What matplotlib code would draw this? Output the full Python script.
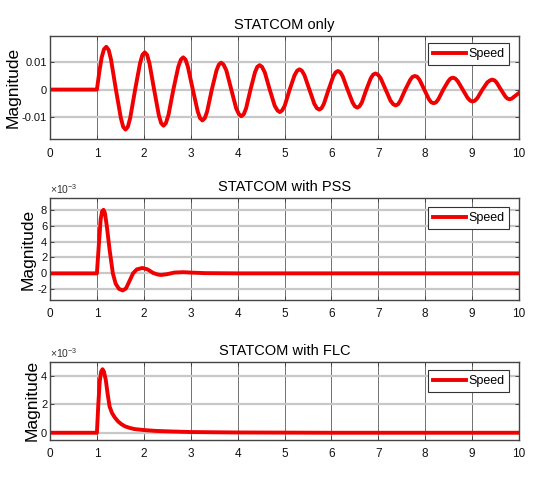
import matplotlib
matplotlib.use("Agg")
import matplotlib.pyplot as plt

plt.rcParams['font.family'] = ['Liberation Sans', 'DejaVu Sans']
plt.rcParams['axes.unicode_minus'] = False
plt.rcParams['mathtext.fontset'] = 'custom'
plt.rcParams['mathtext.rm'] = 'Liberation Sans'

# --- data ---
# STATCOM only (rotor speed deviation)
t_only = [0.0, 1.0, 1.05, 1.10, 1.15, 1.20,
          1.25, 1.30, 1.405, 1.51, 1.56, 1.61,
          1.66, 1.71, 1.815, 1.92, 1.97, 2.02,
          2.07, 2.12, 2.22, 2.32, 2.37, 2.42,
          2.47, 2.525, 2.63, 2.735, 2.79, 2.84,
          2.89, 2.94, 3.045, 3.15, 3.20, 3.25,
          3.30, 3.35, 3.45, 3.55, 3.60, 3.65,
          3.70, 3.76, 3.865, 3.97, 4.03, 4.08,
          4.13, 4.18, 4.275, 4.37, 4.42, 4.47,
          4.52, 4.58, 4.685, 4.79, 4.85, 4.90,
          4.95, 5.005, 5.11, 5.215, 5.27, 5.32,
          5.37, 5.425, 5.53, 5.635, 5.69, 5.74,
          5.79, 5.84, 5.94, 6.04, 6.09, 6.14,
          6.19, 6.24, 6.345, 6.45, 6.50, 6.55,
          6.60, 6.65, 6.745, 6.84, 6.89, 6.94,
          6.99, 7.05, 7.155, 7.26, 7.32, 7.37,
          7.42, 7.47, 7.575, 7.68, 7.73, 7.78,
          7.83, 7.88, 7.98, 8.08, 8.13, 8.18,
          8.23, 8.28, 8.385, 8.49, 8.54, 8.59,
          8.64, 8.695, 8.80, 8.905, 8.96, 9.01,
          9.06, 9.115, 9.22, 9.325, 9.38, 9.43,
          9.48, 9.52, 9.615, 9.71, 9.75, 9.80,
          9.85, 9.90, 10.0]
v_only = [0.0, 0.0, 0.0062, 0.0115, 0.0145, 0.0154,
          0.0143, 0.0109, 0.0, -0.0102, -0.0134, -0.0144,
          -0.0134, -0.0102, 0.0, 0.0095, 0.0125, 0.0134,
          0.0125, 0.0095, 0.0, -0.0092, -0.0121, -0.0130,
          -0.0121, -0.0092, 0.0, 0.0082, 0.0108, 0.0116,
          0.0108, 0.0082, 0.0, -0.0079, -0.0103, -0.0111,
          -0.0103, -0.0079, 0.0, 0.0069, 0.0090, 0.0097,
          0.0090, 0.0069, 0.0, -0.0068, -0.0089, -0.0096,
          -0.0089, -0.0068, 0.0, 0.0062, 0.0082, 0.0088,
          0.0082, 0.0062, 0.0, -0.0058, -0.0075, -0.0081,
          -0.0075, -0.0058, 0.0, 0.0052, 0.0068, 0.0073,
          0.0068, 0.0052, 0.0, -0.0051, -0.0067, -0.0072,
          -0.0067, -0.0051, 0.0, 0.0048, 0.0062, 0.0067,
          0.0062, 0.0048, 0.0, -0.0046, -0.0060, -0.0065,
          -0.0060, -0.0046, 0.0, 0.0041, 0.0054, 0.0058,
          0.0054, 0.0041, 0.0, -0.0040, -0.0053, -0.0057,
          -0.0053, -0.0040, 0.0, 0.0035, 0.0046, 0.0049,
          0.0046, 0.0035, 0.0, -0.0035, -0.0046, -0.0049,
          -0.0046, -0.0035, 0.0, 0.0030, 0.0040, 0.0043,
          0.0040, 0.0030, 0.0, -0.0030, -0.0040, -0.0043,
          -0.0040, -0.0030, 0.0, 0.0026, 0.0033, 0.0036,
          0.0033, 0.0026, 0.0, -0.0025, -0.0032, -0.0035,
          -0.0032, -0.0025, -0.0012]

# STATCOM with PSS (x1e-3)
t_pss = [0.0, 1.0, 1.04, 1.08, 1.11, 1.14, 1.17, 1.21, 1.27, 1.34, 1.40,
         1.47, 1.55, 1.62, 1.70, 1.77, 1.85, 1.97, 2.08, 2.20, 2.30,
         2.37, 2.50, 2.65, 2.84, 3.0, 3.3, 4.0, 10.0]
v_pss = [0.0, 0.0, 3.5, 6.8, 7.8, 8.0, 7.6, 6.0, 3.0, 0.0, -1.3,
         -1.95, -2.15, -1.9, -0.9, 0.0, 0.5, 0.68, 0.5, 0.05, -0.15,
         -0.2, -0.1, 0.1, 0.15, 0.1, 0.03, 0.0, 0.0]

# STATCOM with FLC (x1e-3)
t_flc = [0.0, 1.0, 1.03, 1.06, 1.09, 1.12, 1.15, 1.19, 1.23, 1.27, 1.32,
         1.38, 1.45, 1.52, 1.60, 1.70, 1.80, 2.0, 2.25, 2.5, 3.0, 4.0,
         6.0, 10.0]
v_flc = [0.0, 0.0, 2.0, 3.6, 4.3, 4.47, 4.3, 3.7, 2.7, 1.85, 1.4,
         1.08, 0.8, 0.61, 0.45, 0.34, 0.26, 0.19, 0.13, 0.1, 0.05, 0.02,
         0.0, 0.0]

titles = ['STATCOM only', 'STATCOM with PSS', 'STATCOM with FLC']
xticks = list(range(0, 11))
yticks_only = [-0.01, 0, 0.01]
yticklabels_only = ['-0.01', '0', '0.01']
yticks_pss = [-2, 0, 2, 4, 6, 8]
yticks_flc = [0, 2, 4]

fig = plt.figure(figsize=(5.43, 4.84), dpi=100)

# axes rectangles (left, bottom, width, height) in figure fraction
rects = [(0.0921, 0.7122, 0.8637, 0.2140),
         (0.0921, 0.3802, 0.8637, 0.2101),
         (0.0921, 0.0909, 0.8637, 0.1618)]
ylims = [(-0.0179, 0.0194), (-3.35, 9.45), (-0.51, 5.0)]
leg_y = [0.93, 0.91, 0.895]
series = [(t_only, v_only), (t_pss, v_pss), (t_flc, v_flc)]
yt = [yticks_only, yticks_pss, yticks_flc]

for i in range(3):
    ax = fig.add_axes(rects[i])
    t, v = series[i]
    ax.plot(t, v, color='#f00000', lw=2.8, label='Speed', solid_joinstyle='round')
    ax.set_xlim(0, 10)
    ax.set_ylim(*ylims[i])
    ax.set_xticks(xticks)
    ax.set_yticks(yt[i])
    if i == 0:
        ax.set_yticklabels(yticklabels_only)
    else:
        ax.set_yticklabels([str(k) for k in yt[i]])
        ax.text(0.0, 1.02, r'$\times10^{-3}$', transform=ax.transAxes,
                fontsize=7.5, color='#333333', ha='left', va='bottom')
    ax.xaxis.grid(True, color='#707070', lw=0.7)
    ax.yaxis.grid(True, color='#c8c8c8', lw=1.6)
    ax.set_axisbelow(True)
    ax.tick_params(direction='in', top=True, right=True, length=3,
                   width=0.7, color='#444444', labelsize=8, labelcolor='#111111')
    ax.tick_params(axis='x', pad=6, labelsize=8.5)
    ax.tick_params(axis='y', pad=2)
    for s in ax.spines.values():
        s.set_color('#444444')
        s.set_linewidth(1.0)
    ax.set_title(titles[i], fontsize=10.5, pad=5)
    ax.set_ylabel('Magnitude', fontsize=12.5, labelpad=1)
    leg = ax.legend(loc='upper right', bbox_to_anchor=(0.979, leg_y[i]),
                    borderaxespad=0, fontsize=9, fancybox=False,
                    handlelength=2.6, handletextpad=0.2, borderpad=0.4,
                    framealpha=1)
    leg.get_frame().set_edgecolor('#333333')
    leg.get_frame().set_linewidth(0.8)

fig.savefig('out.png', dpi=100)
